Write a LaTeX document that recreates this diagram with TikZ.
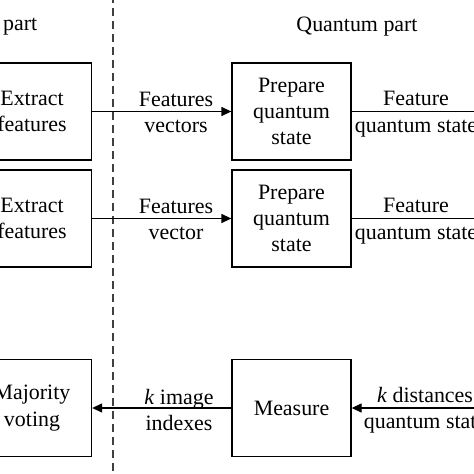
\documentclass[tikz,border=0pt]{standalone}
\usepackage{fontspec}
\setmainfont{Liberation Serif}
\usetikzlibrary{arrows.meta}
\begin{document}
\begin{tikzpicture}[x=1bp,y=-1bp,
  txt/.style={font=\fontsize{22}{26.5}\selectfont, align=center, inner sep=0pt},
  box/.style={txt, draw, line width=1.3bp, minimum width=119bp, minimum height=97bp},
  conn/.style={line width=1.3bp},
  arr/.style={conn, -{Triangle[length=10bp,width=9bp]}},
  divider/.style={line width=1.3bp, dash pattern=on 8bp off 5bp, black!75}]
\useasboundingbox (0,0) rectangle (474,474);
\clip (0,0) rectangle (474,474);
\fill[white] (0,0) rectangle (474,474);
% divider
\coordinate (dt) at (113,-5);
\coordinate (db) at (113,480);
\draw[divider] (dt) -- (db);
% headers
\node[txt, anchor=west] (hl) at (3,27) {part};
\node[txt] (hr) at (357,27) {Quantum part};
% boxes
\node[box] (e1) at (32,111.5) {Extract\\features};
\node[box] (p1) at (291.5,111.5) {Prepare\\quantum\\state};
\node[box] (e2) at (32,218.5) {Extract\\features};
\node[box] (p2) at (291.5,218.5) {Prepare\\quantum\\state};
\node[box] (mv) at (32,408) {Majority\\voting};
\node[box] (ms) at (291.5,408) {Measure};
% right free ends
\coordinate (r1) at (480,111.5);
\coordinate (r2) at (480,218.5);
\coordinate (r3) at (480,408);
% connectors
\draw[arr] (e1) -- (p1);
\draw[arr] (e2) -- (p2);
\draw[conn] (p1.east) -- (r1);
\draw[conn] (p2.east) -- (r2);
\draw[arr] (r3) -- (ms.east);
\draw[arr] (ms) -- (mv);
% labels
\node[txt] (l1) at (176,112.5) {Features\\vectors};
\node[txt] (l2) at (176,219.5) {Features\\vector};
\node[txt] (l3) at (416,114) {Feature\\quantum state};
\node[txt] (l4) at (416,221) {Feature\\quantum state};
\node[txt] (l5) at (179,410) {\textit{k} image\\indexes};
\node[txt] (l6) at (425,410.5) {\textit{k} distances\\quantum state};
\end{tikzpicture}
\end{document}
